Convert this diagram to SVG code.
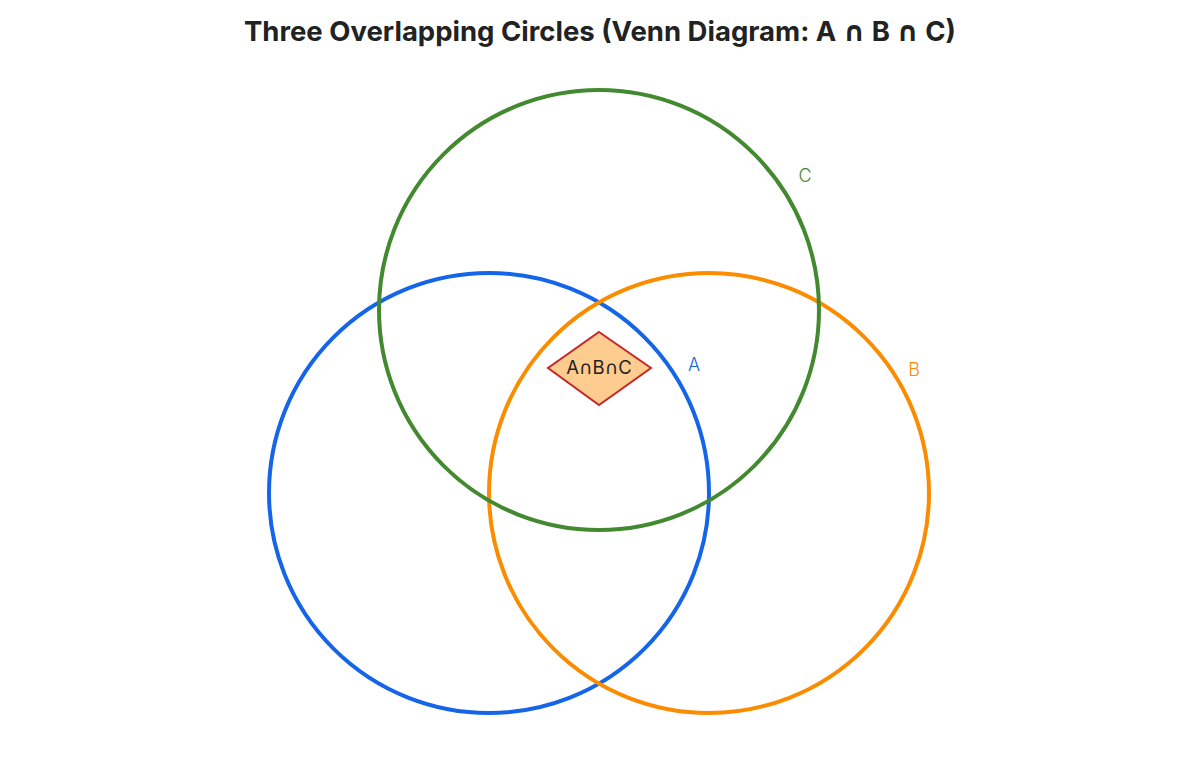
<svg xmlns="http://www.w3.org/2000/svg" width="1200" height="763" viewBox="0 0 1200 763">
<style>
text{font-family:Inter,"Noto Sans","DejaVu Sans",sans-serif}
.c{fill:none;stroke-width:4}
.lbl{font-size:18px;font-weight:300}
</style>
<rect width="1200" height="763" fill="#fff"/>
<text x="600" y="41" text-anchor="middle" font-size="27.5" font-weight="bold" fill="#222">Three Overlapping Circles (Venn Diagram: A ∩ B ∩ C)</text>
<g id="circleA"><circle class="c" cx="489" cy="493" r="220" stroke="#1565e8"/><text class="lbl" x="694" y="371" text-anchor="middle" fill="#1565e8">A</text></g>
<g id="circleB"><circle class="c" cx="709" cy="493" r="220" stroke="#fb8c00"/><text class="lbl" x="914" y="376" text-anchor="middle" fill="#fb8c00">B</text></g>
<g id="circleC"><circle class="c" cx="599" cy="310" r="220" stroke="#43892f"/><text class="lbl" x="805" y="182" text-anchor="middle" fill="#43892f">C</text></g>
<g id="intersection"><polygon points="599,332 651,368 599,405 548,368" fill="#ffcc8f" stroke="#c62828" stroke-width="2"/><text x="599" y="374" text-anchor="middle" font-size="18.5" fill="#222">A∩B∩C</text></g>
<g id="connectors"/>
</svg>
